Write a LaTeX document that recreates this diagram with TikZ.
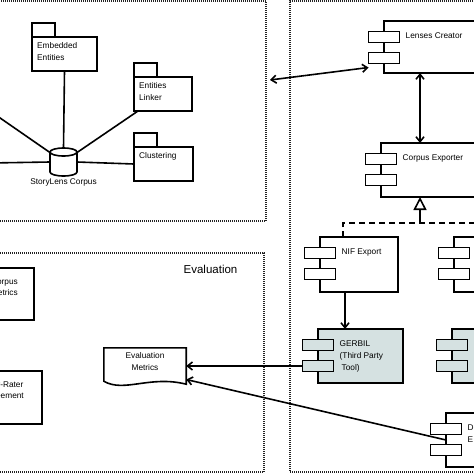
\documentclass[tikz,border=0pt]{standalone}
\usepackage{fontspec}
\setmainfont{Liberation Sans}
\definecolor{SLteal}{HTML}{D5E1E1}
\definecolor{SLframe}{HTML}{222222}
\usetikzlibrary{arrows.meta, positioning}
\tikzset{
  txt/.style={font=\fontsize{8.3}{12}\selectfont, align=left, inner sep=0},
  frame/.style={draw=SLframe, line width=1.4pt, dash pattern=on 1pt off 1pt,
    inner sep=0, outer sep=0, anchor=north west},
  compbody/.style={draw, line width=1.6pt, inner sep=0, outer sep=0, anchor=north west},
  port/.style={draw, line width=1.6pt, inner sep=0, outer sep=0,
    minimum width=31pt, minimum height=11pt},
  pkgbody/.style={draw, line width=1.6pt, inner sep=0, outer sep=0, anchor=north west},
  pkgtab/.style={pkgbody, anchor=south west, minimum width=23pt, minimum height=14pt},
  conn/.style={line width=1.6pt},
  arr/.style={conn, -{Straight Barb[length=5pt, width=8pt]}},
  darr/.style={conn, {Straight Barb[length=5pt, width=8pt]}-{Straight Barb[length=5pt, width=8pt]}}
}
% component: name, corner, width, height, fill, text
\newcommand{\umlcomp}[6]{%
  \node[compbody, fill=#5, minimum width=#3, minimum height=#4] (#1) at #2 {};
  \node[port, fill=#5] (#1-p1) at ([yshift=-16pt]#1.north west) {};
  \node[port, fill=#5] (#1-p2) at ([yshift=-37pt]#1.north west) {};
  \node[txt, anchor=north west] (#1-name) at ([xshift=6pt, yshift=-1pt]#1-p1.north east) {#6};
}
\begin{document}
\begin{tikzpicture}[x=1pt, y=-1pt]
  \useasboundingbox (0,0) rectangle (474,474);
  \clip (0,0) rectangle (474,474);
  % Frames
  \node[frame, minimum width=276pt, minimum height=220pt] (model) at (-10,1) {};
  \node[frame, minimum width=200pt, minimum height=471pt] (proc) at (290,1) {};
  \node[frame, minimum width=274pt, minimum height=219pt] (evalbox) at (-10,253) {};
  \node[font=\fontsize{11.5}{13}\selectfont] (evaltitle) at (210.5,269) {Evaluation};

  % Packages
  \node[pkgbody, minimum width=65pt, minimum height=34pt] (emb) at (32,37) {};
  \node[pkgtab] (emb-tab) at (emb.north west) {};
  \node[txt, anchor=north west] (emb-name) at ([shift={(5pt,-5pt)}]emb.north west) {Embedded\\Entities};
  \node[pkgbody, minimum width=58pt, minimum height=34pt] (lnk) at (134,77) {};
  \node[pkgtab] (lnk-tab) at (lnk.north west) {};
  \node[txt, anchor=north west] (lnk-name) at ([shift={(5pt,-5pt)}]lnk.north west) {Entities\\Linker};
  \node[pkgbody, minimum width=59pt, minimum height=34pt] (clu) at (134,147) {};
  \node[pkgtab] (clu-tab) at (clu.north west) {};
  \node[txt, anchor=north west] (clu-name) at ([shift={(5pt,-5pt)}]clu.north west) {Clustering};

  % Corpus store (cylinder)
  \node[minimum width=27pt, minimum height=28pt, inner sep=0, outer sep=0] (sc) at (63.5,162) {};
  \draw[line width=1.6pt, fill=white] ([yshift=-4pt]sc.north west) -- ([yshift=4pt]sc.south west)
    arc[start angle=180, end angle=360, x radius=13.5pt, y radius=4pt]
    -- ([yshift=-4pt]sc.north east);
  \draw[line width=1.6pt] ([yshift=-4pt]sc.north) ellipse [x radius=13.5pt, y radius=4pt];
  \node[txt, below=3pt of sc] (sc-name) {StoryLens Corpus};
  \coordinate (offA) at (-10,111);
  \coordinate (offB) at (-10,163);
  \draw[conn] (emb.south) -- (sc.north);
  \draw[conn] (sc.35) -- ([xshift=4pt]lnk.south west);
  \draw[conn] (sc.east) -- (clu.west);
  \draw[conn] (sc.145) -- (offA);
  \draw[conn] (sc.west) -- (offB);

  % Evaluation boxes
  \node[draw, line width=1.6pt, anchor=north east, minimum width=60pt, minimum height=52pt, inner sep=0] (cm) at (35,267) {};
  \node[txt, align=center, anchor=east, font=\fontsize{8.3}{11}\selectfont] (cm-name) at (18,287.5) {Corpus\\Metrics};
  \node[draw, line width=1.6pt, anchor=north east, minimum width=68pt, minimum height=53pt, inner sep=0] (ira) at (43,370) {};
  \node[txt, align=center, anchor=east, font=\fontsize{8.3}{11}\selectfont] (ira-name) at (24,391) {Inter-Rater\\Agreement};

  % Evaluation Metrics document
  \node[minimum width=82pt, minimum height=35pt, inner sep=0] (evm) at (145,365.5) {};
  \draw[line width=1.6pt] ([yshift=2pt]evm.south west) -- (evm.north west) -- (evm.north east)
    -- ([yshift=-1pt]evm.south east) .. controls (150,375) and (124,393) .. ([yshift=2pt]evm.south west) -- cycle;
  \node[txt, align=center, anchor=north] (evm-name) at ([yshift=-4pt]evm.north) {Evaluation\\Metrics};

  % Components
  \umlcomp{lc}{(384,21)}{140pt}{52pt}{white}{Lenses Creator}
  \umlcomp{ce}{(381,143)}{140pt}{54pt}{white}{Corpus Exporter}
  \umlcomp{nif}{(320,237)}{78pt}{55pt}{white}{NIF Export}
  \umlcomp{oex}{(454,237)}{78pt}{55pt}{white}{}
  \umlcomp{gb}{(318,329)}{85pt}{54pt}{SLteal}{GERBIL\\(Third Party\\\hspace*{2pt}Tool)}
  \umlcomp{otl}{(452,329)}{85pt}{54pt}{SLteal}{}
  \umlcomp{de}{(446,413)}{85pt}{54pt}{white}{D\\E}

  % Connectors
  \coordinate (gen) at (420,223);
  \coordinate (dashL) at (343,223);
  \coordinate (dashR) at (490,223);
  \draw[darr] ([shift={(4pt,31pt)}]model.east) -- ([yshift=-4pt]lc-p2.south west);
  \draw[darr] (lc.south -| gen) -- (ce.north -| gen);
  \draw[conn, dash pattern=on 6pt off 4pt] (dashL |- nif.north) -- (dashL) -- (dashR);
  \draw[conn, -{Triangle[open, length=13pt, width=13pt]}] (gen) -- (gen |- ce.south);
  \draw[arr] ([xshift=2pt]nif.south -| dashL) -- ([xshift=2pt]gb.north -| dashL);
  \draw[arr] (gb-p2.west) -- (gb-p2.west -| evm.east);
  \draw[arr] (de.west) -- ([yshift=-14pt]evm.east);
\end{tikzpicture}
\end{document}
